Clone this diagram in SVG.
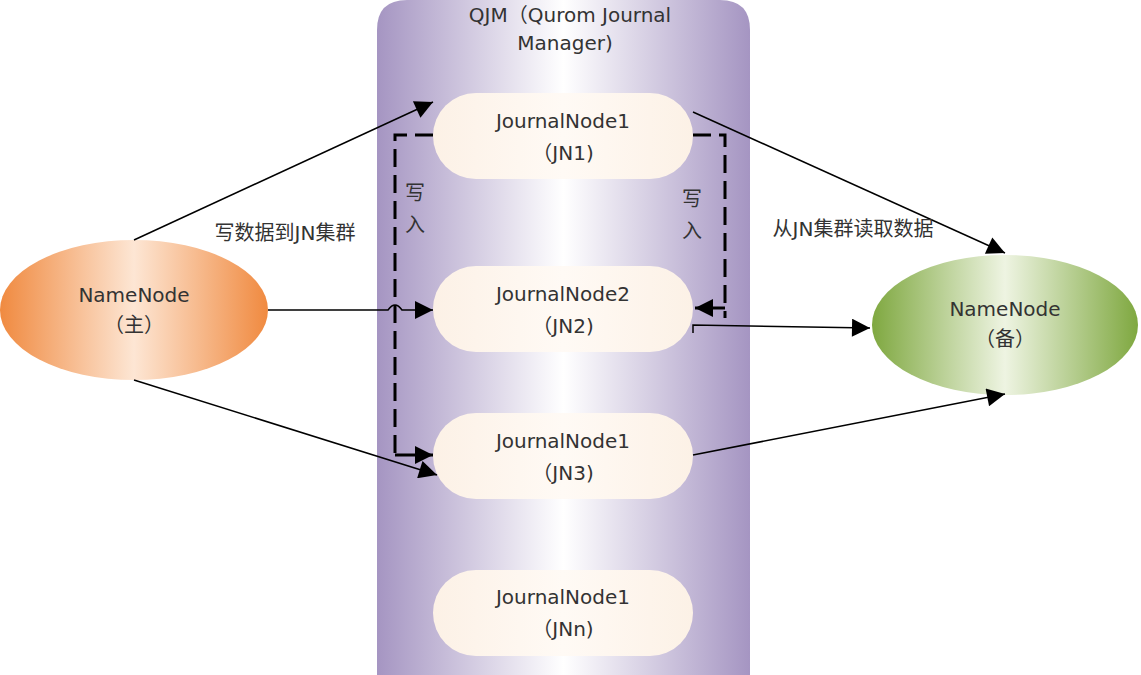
<svg xmlns="http://www.w3.org/2000/svg" width="1141" height="675" viewBox="0 0 1141 675">
<defs>
<linearGradient id="col" x1="0" x2="1" y1="0" y2="0"><stop offset="0" stop-color="#a595c2"/><stop offset="0.5" stop-color="#ffffff"/><stop offset="1" stop-color="#a595c2"/></linearGradient>
<linearGradient id="org" x1="0" x2="1"><stop offset="0" stop-color="#f08a40"/><stop offset="0.5" stop-color="#fde6d4"/><stop offset="1" stop-color="#f08a40"/></linearGradient>
<linearGradient id="grn" x1="0" x2="1"><stop offset="0" stop-color="#7fa840"/><stop offset="0.5" stop-color="#eef4e2"/><stop offset="1" stop-color="#7fa840"/></linearGradient>
<linearGradient id="jn" x1="0" x2="1"><stop offset="0" stop-color="#fcf1e6"/><stop offset="0.5" stop-color="#fffaf5"/><stop offset="1" stop-color="#fcf1e6"/></linearGradient>
<marker id="a" viewBox="0 0 10 10" refX="10" refY="5" markerWidth="8" markerHeight="8" orient="auto" markerUnits="userSpaceOnUse"><path d="M0,0 L10,5 L0,10 z" fill="#000"/></marker>
<marker id="b" viewBox="0 0 10 10" refX="10" refY="5" markerWidth="24" markerHeight="18" orient="auto" markerUnits="userSpaceOnUse"><path d="M0,0 L10,5 L0,10 z" fill="#000"/></marker>
<style>
text{font-family:"DejaVu Sans","Noto Sans CJK SC",sans-serif;font-size:20px;fill:#333;text-anchor:middle}
.c{stroke:#000;stroke-width:1.5;fill:none;marker-end:url(#b)}
.d{stroke:#000;stroke-width:3;fill:none;stroke-dasharray:18,8}
.jn{fill:url(#jn)}
</style>
</defs>
<g id="qjm"><path d="M377,675 L377,30 Q377,0 407,0 L720,0 Q750,0 750,30 L750,675 Z" fill="url(#col)"/>
<text x="570" y="22">QJM（Qurom Journal</text><text x="565" y="50">Manager)</text></g>
<g id="nn1"><ellipse cx="134" cy="310" rx="134" ry="70" fill="url(#org)"/><text x="134" y="302">NameNode</text><text x="134" y="332">（主）</text></g>
<g id="nn2"><ellipse cx="1005" cy="325" rx="133" ry="70" fill="url(#grn)"/><text x="1005" y="316">NameNode</text><text x="1005" y="346">（备）</text></g>
<g id="jn1"><rect class="jn" x="433" y="93" width="260" height="86" rx="43"/><text x="563" y="128">JournalNode1</text><text x="563" y="160">（JN1)</text></g>
<g id="jn2"><rect class="jn" x="433" y="266" width="260" height="86" rx="43"/><text x="563" y="301">JournalNode2</text><text x="563" y="333">（JN2)</text></g>
<g id="jn3"><rect class="jn" x="433" y="413" width="260" height="86" rx="43"/><text x="563" y="448">JournalNode1</text><text x="563" y="480">（JN3)</text></g>
<g id="jnn"><rect class="jn" x="433" y="570" width="260" height="86" rx="43"/><text x="563" y="604">JournalNode1</text><text x="563" y="636">（JNn)</text></g>
<g id="connectors">
<path class="c" d="M134,240 L433,102"/>
<path class="c" d="M268,310 L388,310 Q395,300 402,310 L433,310"/>
<path class="c" d="M134,380 L437,475"/>
<path class="c" d="M693,112 L1005,253"/>
<path class="c" d="M693,333 L693,325 L870,328"/>
<path class="c" d="M693,455 L1005,394"/>
<path class="d" d="M433,135 L395,135 L395,455"/>
<path d="M395,455 L433,455" stroke="#000" stroke-width="3" fill="none" marker-end="url(#b)"/>
<path class="d" d="M693,135 L725,135 L725,318"/>
<path d="M725,308 L695,308" stroke="#000" stroke-width="3" fill="none" marker-end="url(#b)"/>
</g>
<g id="labels">
<text x="285" y="240">写数据到JN集群</text>
<text x="853" y="236">从JN集群读取数据</text>
<text x="415" y="200">写</text><text x="415" y="232">入</text>
<text x="692" y="206">写</text><text x="692" y="238">入</text>
</g>
</svg>
